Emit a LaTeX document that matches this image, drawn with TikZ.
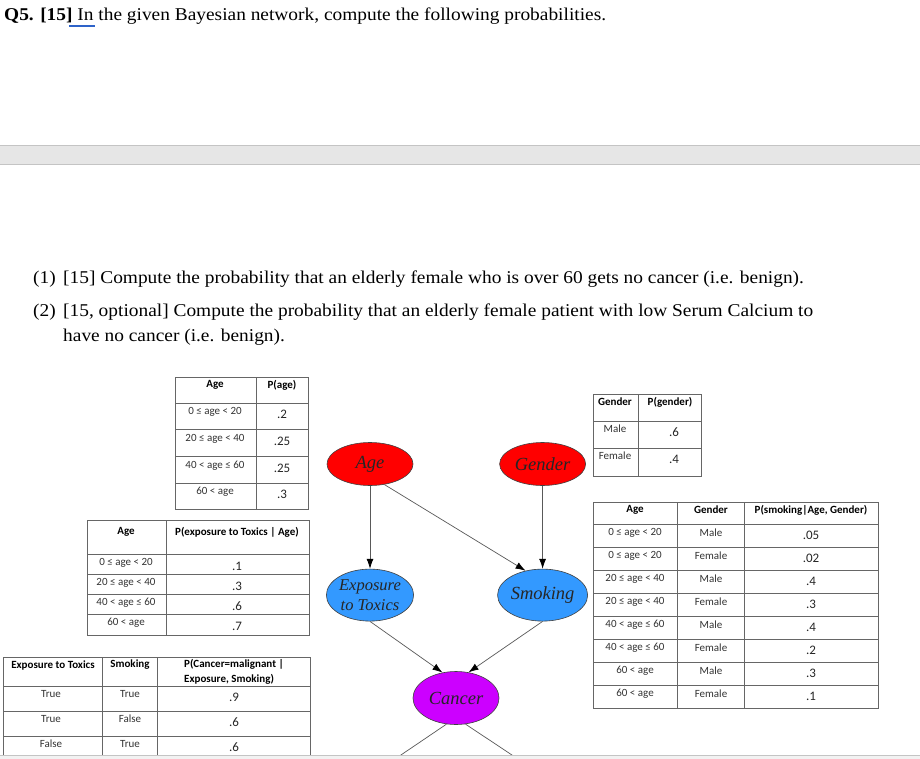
\documentclass[tikz,border=0pt]{standalone}
\usepackage{fontspec}
\setmainfont{Liberation Serif}
\newfontfamily\docfont[FakeStretch=1.077]{Liberation Serif}
\newfontfamily\tabfont{Carlito}
\usetikzlibrary{shapes.geometric, arrows.meta, positioning}

\definecolor{nodered}{HTML}{FF0000}
\definecolor{nodeblue}{HTML}{3399FF}
\definecolor{nodepurple}{HTML}{CC00FF}
\definecolor{bandgray}{HTML}{E6E6E6}
\definecolor{bandedge}{HTML}{C4C4C4}
\definecolor{linkblue}{HTML}{2E63C9}

\begin{document}
\begin{tikzpicture}[x=1pt, y=-1pt]
    % スタイル定義
    \tikzstyle{chance} = [ellipse, draw=black!75, line width=0.6pt, inner sep=0pt, text=black!85, font=\itshape\fontsize{18.5}{20}\selectfont, minimum width=86pt, minimum height=43pt]
    \tikzstyle{line} = [draw=black!65, line width=0.7pt, -{Latex[length=10pt, width=7pt, black]}]
    \tikzstyle{stub} = [draw=black!65, line width=0.7pt]
    \tikzstyle{grid} = [draw=black!60, line width=0.6pt]
    \tikzstyle{cell} = [inner sep=0pt, text=black!80, font=\tabfont\fontsize{11}{12}\selectfont]
    \tikzstyle{head} = [inner sep=0pt, text=black, font=\tabfont\bfseries\fontsize{11}{15}\selectfont]
    \tikzstyle{prob} = [inner sep=0pt, text=black!85, font=\tabfont\fontsize{13}{14}\selectfont]
    \tikzstyle{doc} = [inner sep=0pt, anchor=base west, font=\docfont\fontsize{18}{22}\selectfont]

    \useasboundingbox (0,0) rectangle (920,759);
    \fill[white] (0,0) rectangle (920,759);

    % 問題文
    \node[doc] (title) at (4,21) {\textbf{Q5. [15]} In the given Bayesian network, compute the following probabilities.};
    \draw[linkblue, line width=1.2pt] (69,26) -- (95,26);
    \fill[bandgray] (0,145) rectangle (920,164);
    \draw[bandedge] (0,145) -- (920,145) (0,164) -- (920,164);
    \node[doc] (q1n) at (33,283) {(1)};
    \node[doc] (q1) at (63,283) {[15] Compute the probability that an elderly female who is over 60 gets no cancer (i.e. benign).};
    \node[doc] (q2n) at (33,316) {(2)};
    \node[doc] (q2) at (63,316) {[15, optional] Compute the probability that an elderly female patient with low Serum Calcium to};
    \node[doc] (q2b) at (63,341) {have no cancer (i.e. benign).};

    % 表: Age
    \draw[grid] (175,377) rectangle (308,509);
    \foreach \y in {403,429,456,483} \draw[grid] (175,\y) -- (308,\y);
    \draw[grid] (256,377) -- (256,509);
    \node[head] (ageh1) at (215,385) {Age};
    \node[head] (ageh2) at (282,385) {P(age)};
    \foreach \k/\p/\y [count=\i] in {0 ≤ age < 20/.2/412, 20 ≤ age < 40/.25/439, 40 < age ≤ 60/.25/466, 60 < age/.3/492}{
        \node[cell] (agek\i) at (215,\y) {\k};
        \node[prob] (agep\i) at (282,\y+2) {\p};
    }

    % 表: Gender
    \draw[grid] (593,394) rectangle (701,476);
    \foreach \y in {421,448} \draw[grid] (593,\y) -- (701,\y);
    \draw[grid] (638,394) -- (638,476);
    \node[head] (genh1) at (615,402) {Gender};
    \node[head] (genh2) at (670,402) {P(gender)};
    \foreach \g/\p/\y [count=\i] in {Male/.6/429, Female/.4/456}{
        \node[cell] (genk\i) at (615,\y) {\g};
        \node[prob] (genp\i) at (674,\y+3) {\p};
    }

    % 表: Smoking
    \draw[grid] (593,502) rectangle (878,708);
    \foreach \y in {524,547,570,593,616,639,662,685} \draw[grid] (593,\y) -- (878,\y);
    \foreach \x in {677,744} \draw[grid] (\x,502) -- (\x,708);
    \node[head] (smkh1) at (635,510) {Age};
    \node[head] (smkh2) at (711,510) {Gender};
    \node[head] (smkh3) at (811,510) {P(smoking|Age, Gender)};
    \foreach \a/\g/\p [count=\i] in {0 ≤ age < 20/Male/.05, 0 ≤ age < 20/Female/.02, 20 ≤ age < 40/Male/.4, 20 ≤ age < 40/Female/.3, 40 < age ≤ 60/Male/.4, 40 < age ≤ 60/Female/.2, 60 < age/Male/.3, 60 < age/Female/.1}{
        \node[cell] (smka\i) at (635,510+23*\i) {\a};
        \node[cell] (smkg\i) at (711,510+23*\i) {\g};
        \node[prob] (smkp\i) at (811,512+23*\i) {\p};
    }

    % 表: Exposure
    \draw[grid] (87,520) rectangle (309,635);
    \foreach \y in {554,574,594,614} \draw[grid] (87,\y) -- (309,\y);
    \draw[grid] (166,520) -- (166,635);
    \node[head] (exph1) at (126,532) {Age};
    \node[head] (exph2) at (237,532) {P(exposure to Toxics | Age)};
    \foreach \k/\p [count=\i] in {0 ≤ age < 20/.1, 20 ≤ age < 40/.3, 40 < age ≤ 60/.6, 60 < age/.7}{
        \node[cell] (expk\i) at (126,543+20*\i) {\k};
        \node[prob] (expp\i) at (237,546+20*\i) {\p};
    }

    % 表: Cancer
    \draw[grid] (3,657) -- (310,657);
    \foreach \y in {686,711,736} \draw[grid] (3,\y) -- (310,\y);
    \foreach \x in {3,102,157,310} \draw[grid] (\x,657) -- (\x,759);
    \node[head] (canh1) at (53,665) {Exposure to Toxics};
    \node[head] (canh2) at (130,665) {Smoking};
    \node[head, align=left] (canh3) at (234,672) {P(Cancer=malignant |\\Exposure, Smoking)};
    \foreach \e/\s/\p [count=\i] in {True/True/.9, True/False/.6, False/True/.6}{
        \node[cell] (cane\i) at (51,669+25*\i) {\e};
        \node[cell] (cans\i) at (130,669+25*\i) {\s};
        \node[prob] (canp\i) at (234,672+25*\i) {\p};
    }

    % ネットワーク
    \node [chance, fill=nodered] (age) at (370,464) {Age};
    \node [chance, fill=nodered, right=86pt of age] (gender) {Gender};
    \node [chance, fill=nodeblue, align=center, minimum width=87pt, minimum height=52pt, font=\itshape\fontsize{16.5}{19.5}\selectfont, below=83pt of age] (expo) {Exposure\\to Toxics};
    \node [chance, fill=nodeblue, minimum width=87pt, minimum height=52pt, below=83pt of gender] (smoke) {Smoking};
    \node [chance, fill=nodepurple, minimum height=53pt] (cancer) at (456,698) {Cancer};
    \coordinate (kidL) at (395,759);
    \coordinate (kidR) at (518,759);

    % 矢印
    \path [line] (age) -- (expo);
    \path [line] (age.-55) -- (smoke.125);
    \path [line] (gender) -- (smoke);
    \path [line] (expo.south) -- (cancer.118);
    \path [line] (smoke.south) -- (cancer.64);
    \path [stub] (cancer.-110) -- (kidL);
    \path [stub] (cancer.-70) -- (kidR);

    % 下端
    \fill[black!5] (0,755) rectangle (920,759);
    \draw[bandedge] (0,755) -- (920,755);
\end{tikzpicture}
\end{document}
